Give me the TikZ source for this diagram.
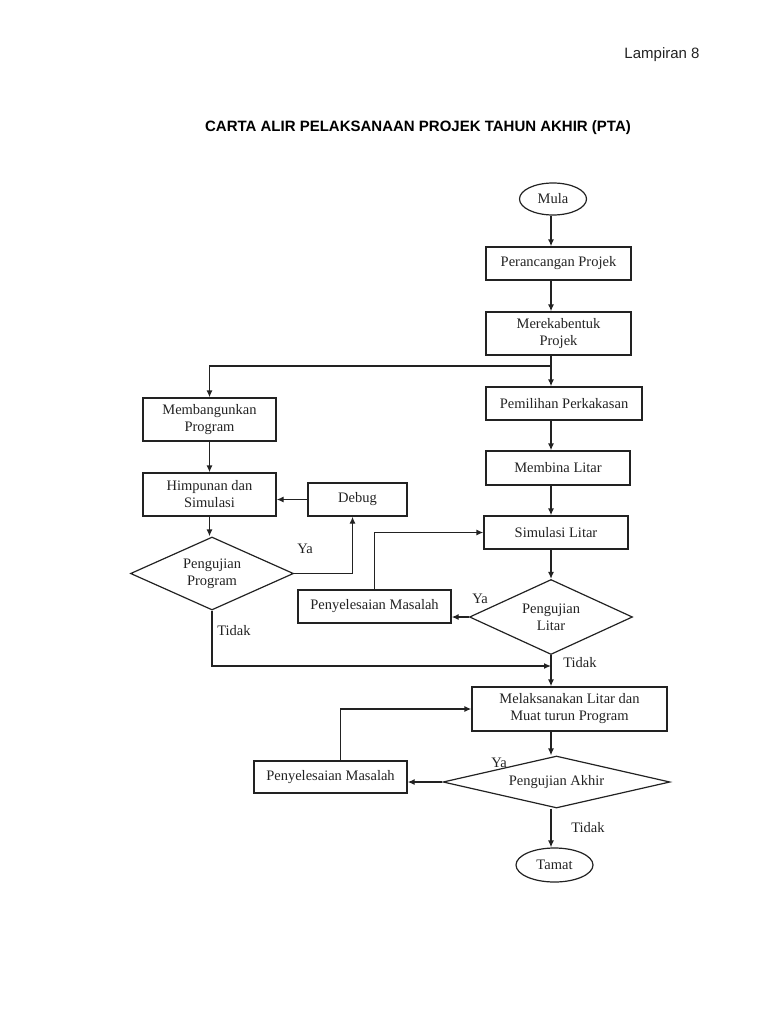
\documentclass[tikz,border=0pt]{standalone}
\usepackage{fontspec}
\setmainfont{Liberation Serif}
\newfontfamily\arialf{Liberation Sans}
\usetikzlibrary{shapes.geometric,arrows.meta}
\definecolor{ink}{HTML}{222222}
\begin{document}
\begin{tikzpicture}[x=1pt,y=-1pt,
  every node/.style={font=\fontsize{14.5}{17}\selectfont, text=ink},
  box/.style={draw=ink, line width=1.3pt, rectangle, inner sep=0pt, align=center},
  oval/.style={draw=ink, line width=1.2pt, ellipse, inner sep=0pt},
  dia/.style={draw=ink, line width=1.2pt, diamond, inner sep=0pt, align=center},
  lab/.style={inner sep=0pt},
  con/.style={draw=ink, line width=1.3pt},
  arr/.style={con, -{Latex[length=7pt,width=6pt]}}]
\useasboundingbox (0,0) rectangle (768,1024);

% headings
\node[lab, font=\arialf\fontsize{15}{17}\selectfont] (lamp) at (662,55) {Lampiran 8};
\node[lab, font=\arialf\bfseries\fontsize{15}{17}\selectfont, text=black] (title) at (418,128) {CARTA ALIR PELAKSANAAN PROJEK TAHUN AKHIR (PTA)};

% right column
\node[oval, minimum width=67pt, minimum height=32pt] (mula) at (553,199) {Mula};
\node[box, minimum width=145pt, minimum height=33pt] (p1) at (558.5,263.5) {Perancangan Projek};
\node[box, minimum width=145pt, minimum height=43pt] (p2) at (558.5,333.5) {Merekabentuk\\Projek};
\node[box, minimum width=156pt, minimum height=33pt] (p3) at (564,403.5) {Pemilihan Perkakasan};
\node[box, minimum width=144pt, minimum height=34pt] (p4) at (558,468) {Membina Litar};
\node[box, minimum width=144pt, minimum height=33pt] (p5) at (556,532.5) {Simulasi Litar};
\node[dia, aspect=2.17, minimum width=163pt, minimum height=75pt] (d1) at (551,617) {Pengujian\\Litar};
\node[box, minimum width=153pt, minimum height=33pt] (ps1) at (374.5,606.5) {Penyelesaian Masalah};
\node[box, minimum width=195pt, minimum height=44pt] (m) at (569.5,709) {Melaksanakan Litar dan\\Muat turun Program};
\node[dia, aspect=4.37, minimum width=227pt, minimum height=52pt] (d2) at (556.5,782) {Pengujian Akhir};
\node[box, minimum width=153pt, minimum height=32pt] (ps2) at (330.5,777) {Penyelesaian Masalah};
\node[oval, minimum width=77pt, minimum height=34pt] (tamat) at (554.5,865) {Tamat};

% left column
\node[box, minimum width=133pt, minimum height=43pt] (b1) at (209.5,419.5) {Membangunkan\\Program};
\node[box, minimum width=133pt, minimum height=43pt] (b2) at (209.5,494.5) {Himpunan dan\\Simulasi};
\node[box, minimum width=99pt, minimum height=33pt] (debug) at (357.5,499.5) {Debug};
\node[dia, aspect=2.23, minimum width=163pt, minimum height=73pt] (d3) at (212,573.5) {Pengujian\\Program};

% helper coordinates
\coordinate (sx) at (551,0);
\coordinate (br) at (551,366);
\coordinate (mj) at (551,666);

% main spine
\draw[arr] (sx |- mula.south) -- (sx |- p1.north);
\draw[arr] (sx |- p1.south) -- (sx |- p2.north);
\draw[con] (sx |- p2.south) -- (br);
\draw[arr] (br) -- (sx |- p3.north);
\draw[arr] (br) -| (b1.north);
\draw[arr] (sx |- p3.south) -- (sx |- p4.north);
\draw[arr] (sx |- p4.south) -- (sx |- p5.north);
\draw[arr] (sx |- p5.south) -- (d1.north);
\draw[arr] (d1.west) -- (d1.west -| ps1.east);
\draw[arr] (ps1.north) |- (p5.west);
\draw[arr] (d1.south) -- (sx |- m.north);
\draw[arr] (sx |- m.south) -- (sx |- d2.north);
\draw[arr] (d2.west) -- (d2.west -| ps2.east);
\draw[arr] ([xshift=10pt]ps2.north) |- (m.west);
\draw[arr] (sx |- d2.south) -- (sx |- tamat.north);

% left column connectors
\draw[arr] (b1.south) -- (b2.north);
\draw[arr] (b2.south) -- (b2.south |- d3.north);
\draw[arr] (debug.west) -- (debug.west -| b2.east);
\draw[arr] (d3.east) -| ([xshift=-5pt]debug.south);
\draw[arr] (d3.south) |- (mj);

% labels
\node[lab] (ya1) at (305,549) {Ya};
\node[lab] (td1) at (234,631) {Tidak};
\node[lab] (ya2) at (480,599) {Ya};
\node[lab] (td2) at (580,663) {Tidak};
\node[lab] (ya3) at (499,763) {Ya};
\node[lab] (td3) at (588,828) {Tidak};
\end{tikzpicture}
\end{document}
